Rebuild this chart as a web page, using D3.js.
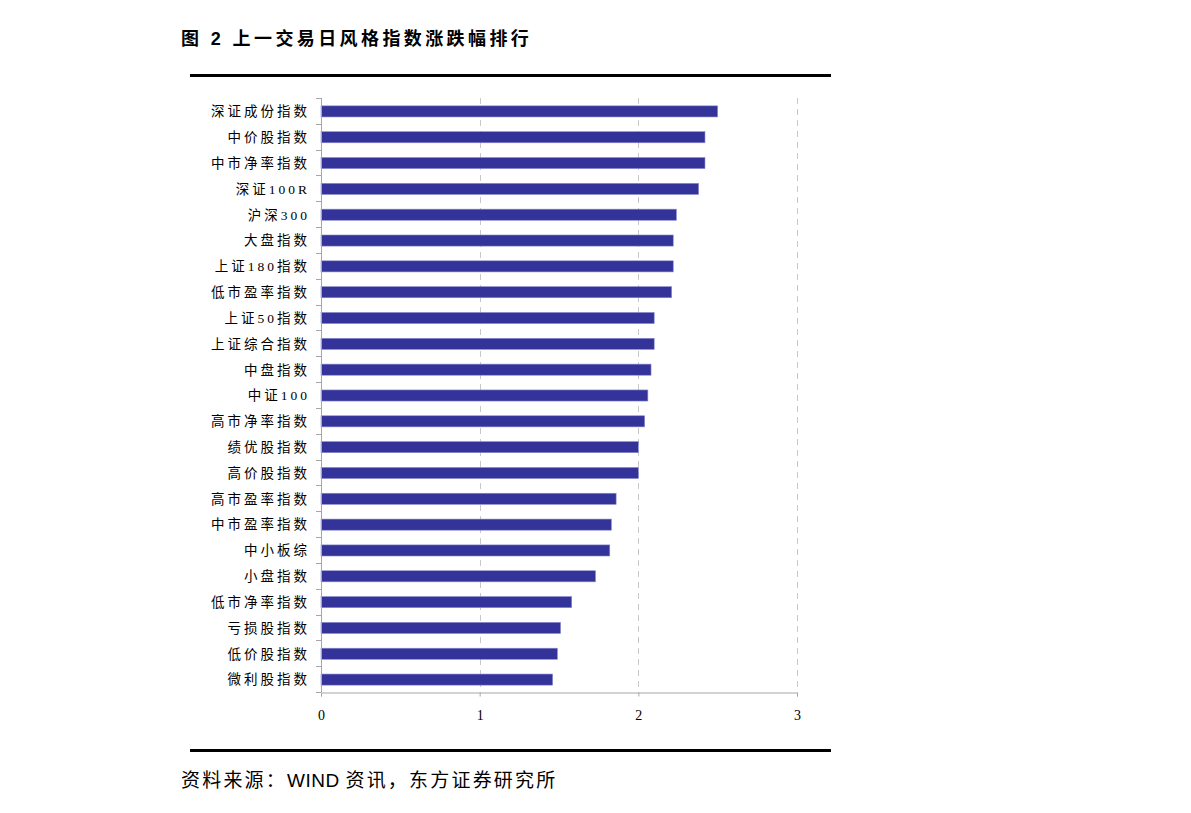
<!DOCTYPE html>
<html>
<head>
<meta charset="utf-8">
<script src="https://cdn.jsdelivr.net/npm/d3@7"></script>
<style>
    body { margin: 0; background: #fff; }
    .title { font-family: "Liberation Sans", "Noto Sans CJK SC", sans-serif; font-weight: bold; font-size: 18px; letter-spacing: 3.4px; }
    .source { font-family: "Liberation Sans", "Noto Sans CJK SC", sans-serif; font-size: 19px; letter-spacing: 2.2px; }
    .cat { font-family: "Liberation Serif", "Noto Sans CJK SC", serif; font-size: 13.5px; letter-spacing: 3px; }
    .tick text { font-family: "Liberation Serif", serif; font-size: 14px; }
</style>
</head>
<body>
<div id="chart"></div>
<script>
// Data
const categories = ['深证成份指数', '中价股指数', '中市净率指数', '深证100R', '沪深300', '大盘指数',
    '上证180指数', '低市盈率指数', '上证50指数', '上证综合指数', '中盘指数', '中证100', '高市净率指数',
    '绩优股指数', '高价股指数', '高市盈率指数', '中市盈率指数', '中小板综', '小盘指数', '低市净率指数',
    '亏损股指数', '低价股指数', '微利股指数'];
const values = [2.50, 2.42, 2.42, 2.38, 2.24, 2.22, 2.22, 2.21, 2.10, 2.10, 2.08, 2.06, 2.04,
    2.00, 2.00, 1.86, 1.83, 1.82, 1.73, 1.58, 1.51, 1.49, 1.46];
const xTicks = [0, 1, 2, 3];

// Config
const w = 1191, h = 813;
const plot = {left: 321, right: 797, top: 98, bottom: 692};

const svg = d3.select('#chart')
    .append('svg')
    .attr('width', w)
    .attr('height', h);

// Title and rules
svg.append('text')
    .attr('class', 'title')
    .attr('x', 181)
    .attr('y', 45)
    .text('图 2 上一交易日风格指数涨跌幅排行');

svg.append('line')
    .attr('x1', 190).attr('x2', 831)
    .attr('y1', 75.5).attr('y2', 75.5)
    .attr('stroke', '#000').attr('stroke-width', 3);

svg.append('line')
    .attr('x1', 190).attr('x2', 831)
    .attr('y1', 750.5).attr('y2', 750.5)
    .attr('stroke', '#000').attr('stroke-width', 3);

// Source, WIND not spaced
const src = svg.append('text')
    .attr('class', 'source')
    .attr('x', 181)
    .attr('y', 787);
src.append('tspan').text('资料来源：');
src.append('tspan').style('letter-spacing', '0.5px').text('WIND ');
src.append('tspan').text('资讯，东方证券研究所');

// Scales
const xScale = d3.scaleLinear()
    .domain([0, 3])
    .range([plot.left, plot.right]);

const yScale = d3.scaleBand()
    .domain(categories)
    .range([plot.top, plot.bottom])
    .paddingInner(0.57)
    .paddingOuter(0.285);

const bandAll = (plot.bottom - plot.top) / categories.length;

// Gridlines
svg.append('g')
    .selectAll('line')
    .data(xTicks.filter(d => d > 0))
    .join('line')
    .attr('x1', d => Math.round(xScale(d)) + 0.5)
    .attr('x2', d => Math.round(xScale(d)) + 0.5)
    .attr('y1', plot.top)
    .attr('y2', plot.bottom)
    .attr('stroke', '#c8c8c8')
    .attr('stroke-dasharray', '6,5');

// Bars
svg.append('g')
    .selectAll('rect')
    .data(values)
    .join('rect')
    .attr('x', xScale(0))
    .attr('y', (d, i) => yScale(categories[i]) + 0.5)
    .attr('width', d => xScale(d) - xScale(0))
    .attr('height', yScale.bandwidth())
    .attr('fill', '#333399')
    .attr('stroke', '#8c8cd0')
    .attr('stroke-width', 0.6);

// Y axis line and ticks
const yAxisG = svg.append('g');
yAxisG.append('line')
    .attr('x1', plot.left + 0.5).attr('x2', plot.left + 0.5)
    .attr('y1', plot.top).attr('y2', plot.bottom)
    .attr('stroke', '#a6a6a6');
yAxisG.selectAll('.ytick')
    .data(d3.range(categories.length + 1))
    .join('line')
    .attr('class', 'ytick')
    .attr('x1', plot.left - 5).attr('x2', plot.left)
    .attr('y1', i => Math.round(plot.top + i * bandAll) + 0.5)
    .attr('y2', i => Math.round(plot.top + i * bandAll) + 0.5)
    .attr('stroke', '#a6a6a6');

// Category labels
svg.append('g')
    .selectAll('text')
    .data(categories)
    .join('text')
    .attr('class', 'cat')
    .attr('x', 310)
    .attr('y', d => yScale(d) + yScale.bandwidth() / 2 + 0.5)
    .attr('dy', '0.36em')
    .attr('text-anchor', 'end')
    .text(d => d);

// X axis
const xAxis = d3.axisBottom(xScale)
    .tickValues(xTicks)
    .tickSize(4)
    .tickPadding(14)
    .tickFormat(d3.format('d'));

const xAxisG = svg.append('g')
    .attr('transform', `translate(0, ${plot.bottom + 0.5})`)
    .call(xAxis);
xAxisG.select('.domain').attr('stroke', '#a6a6a6');
xAxisG.selectAll('.tick line').attr('stroke', '#a6a6a6');
xAxisG.selectAll('.tick text').attr('fill', '#000');
</script>
</body>
</html>
